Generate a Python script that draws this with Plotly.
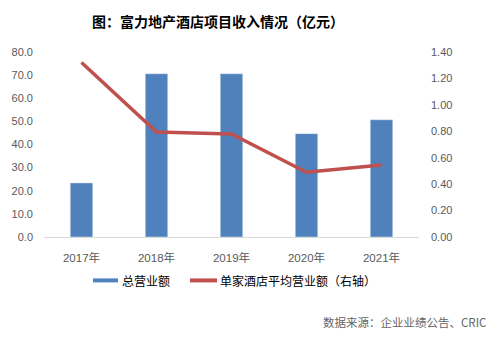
import plotly.graph_objects as go

years = ["2017年", "2018年", "2019年", "2020年", "2021年"]
total_revenue = [23.4, 70.6, 70.6, 44.7, 50.7]
avg_revenue = [1.32, 0.795, 0.78, 0.49, 0.545]
left_ticks = [0, 10, 20, 30, 40, 50, 60, 70, 80]
right_ticks = [0, 0.2, 0.4, 0.6, 0.8, 1.0, 1.2, 1.4]

W, H = 503, 339
X0, X1 = 44, 419
YT, YB = 52.3, 237.3

def px(x):
    return (x - X0) / (X1 - X0)

def py(y):
    return (YB - y) / (YB - YT)

tickfont = dict(family="Liberation Sans, Arial, Noto Sans CJK SC", size=11, color="#595959")
cjk = "Noto Sans CJK SC, Liberation Sans"

fig = go.Figure()
fig.add_trace(go.Bar(x=years, y=total_revenue, name="总营业额", marker_color="#4F81BD",
                     width=0.30, showlegend=False, yaxis="y"))
fig.add_trace(go.Scatter(x=years, y=avg_revenue, name="单家酒店平均营业额（右轴）", mode="lines",
                         line=dict(color="#C0504D", width=3.5), showlegend=False, yaxis="y2"))

fig.update_layout(
    width=W, height=H,
    margin=dict(l=X0, r=W - X1, t=YT, b=H - YB, pad=0),
    paper_bgcolor="white", plot_bgcolor="white",
    xaxis=dict(type="category", range=[-0.5, 4.5], showline=True, linecolor="#D9D9D9", linewidth=1,
               showgrid=False, zeroline=False, ticks="",
               tickfont=dict(family="Liberation Sans, Arial, Noto Sans CJK SC", size=11.5, color="#595959"),
               ticklabelstandoff=10),
    yaxis=dict(range=[0, 80], tickvals=left_ticks, tickformat=".1f", showgrid=False, zeroline=False,
               showline=False, tickfont=tickfont, ticklabelstandoff=10),
    yaxis2=dict(range=[0, 1.4], tickvals=right_ticks, tickformat=".2f", overlaying="y", side="right",
                showgrid=False, zeroline=False, showline=False, tickfont=tickfont, ticklabelstandoff=11),
    title=dict(text="<b>图：富力地产酒店项目收入情况（亿元）</b>", x=218 / W, y=1 - 22 / H,
               xanchor="center", yanchor="middle", font=dict(family=cjk, size=14, color="#000000")),
)

# legend (manual)
ly = 280.7
fig.add_shape(type="line", xref="paper", yref="paper", x0=px(93), x1=px(118), y0=py(ly), y1=py(ly),
              line=dict(color="#4F81BD", width=4))
fig.add_shape(type="line", xref="paper", yref="paper", x0=px(190), x1=px(217), y0=py(ly), y1=py(ly),
              line=dict(color="#C0504D", width=4))
fig.add_annotation(text="总营业额", xref="paper", yref="paper", x=px(120), y=py(ly),
                   xanchor="left", yanchor="middle", showarrow=False,
                   font=dict(family=cjk, size=12, color="#000000"))
fig.add_annotation(text="单家酒店平均营业额（右轴）", xref="paper", yref="paper", x=px(218), y=py(ly),
                   xanchor="left", yanchor="middle", showarrow=False,
                   font=dict(family=cjk, size=12, color="#000000"))
fig.add_annotation(text="数据来源：企业业绩公告、CRIC", xref="paper", yref="paper", x=px(488), y=py(322),
                   xanchor="right", yanchor="middle", showarrow=False,
                   font=dict(family=cjk, size=11.5, color="#666666"))

fig.write_html("out.html")
